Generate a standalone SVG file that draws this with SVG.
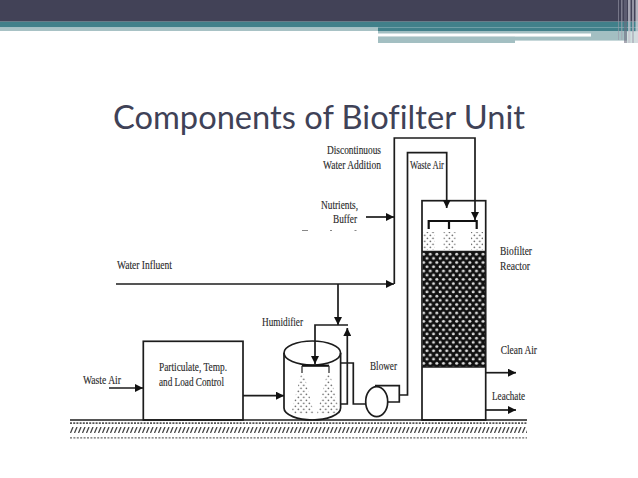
<svg xmlns="http://www.w3.org/2000/svg" width="638" height="478" viewBox="0 0 638 478">
<style>
.l{fill:none;stroke:#1c1c1c;stroke-width:1.7}
.t{font-family:"Liberation Serif",serif;font-size:13px;fill:#2a2a2a;stroke:#2a2a2a;stroke-width:.15}
.title{font-family:Lato,"Open Sans",sans-serif;font-size:33px;fill:#3f4257;font-variant-ligatures:none}
</style>
<defs>
<marker id="a" viewBox="0 0 10 10" refX="10" refY="5" markerWidth="8" markerHeight="8" markerUnits="userSpaceOnUse" orient="auto"><path d="M0 0L10 5L0 10Z" fill="#111"/></marker>
<pattern id="pack" width="6.600" height="8.400" patternUnits="userSpaceOnUse" x="422" y="252">
<rect width="6.600" height="8.400" fill="#111"/><circle cx="1.650" cy="2.100" r="1.500" fill="#ddd"/><circle cx="4.950" cy="6.300" r="1.500" fill="#ddd"/>
</pattern>
<pattern id="drops" width="5.500" height="6" patternUnits="userSpaceOnUse">
<circle cx="1.300" cy="1.400" r=".8" fill="#666"/><circle cx="4" cy="4.400" r=".8" fill="#666"/>
</pattern>
<pattern id="hatch" width="4" height="6" patternUnits="userSpaceOnUse" x="70" y="427">
<path d="M0.500 6L3 0" stroke="#444" stroke-width="1.300"/>
</pattern>
</defs>
<rect width="638" height="478" fill="#fff"/>
<g id="banner">
<rect width="638" height="21.700" fill="#424257"/>
<rect y="21.700" width="638" height="5.800" fill="#41808a"/>
<rect y="27.500" width="378" height="3.500" fill="#a8c2c5"/>
<rect x="378" y="27.500" width="260" height="4" fill="#41808a"/>
<rect x="378" y="31.500" width="249" height="9.100" fill="#a3bfc2"/>
<rect x="378" y="33.500" width="213" height="2.500" fill="#fff"/>
<rect x="378" y="36" width="213" height=".8" fill="#e4ecec"/>
<rect x="378" y="36.800" width="137" height="6.200" fill="#a3bfc2"/>
<rect x="618" y="0" width="1" height="40" fill="#9a9aa8" opacity=".6"/>
<rect x="621" y="0" width="1.500" height="40" fill="#a5a5b2" opacity=".6"/>
<rect x="624" y="0" width="3" height="43" fill="#6e6e80" opacity=".6"/>
<rect x="627" y="31.500" width="11" height="11.500" fill="#cfe0df"/>
<rect x="628" y="0" width="2.500" height="43" fill="#c5c5cf" opacity=".75"/>
<rect x="632" y="0" width="2" height="43" fill="#b0b0bc" opacity=".75"/>
<rect x="635.500" y="0" width="2.500" height="43" fill="#d8d8df" opacity=".75"/>
</g>
<text class="title" x="113" y="128.500" textLength="412" lengthAdjust="spacingAndGlyphs">Components of Biofilter Unit</text>
<g id="ground">
<path class="l" d="M70 420H527"/>
<path d="M70 423.200H527" stroke="#555" stroke-width="1.800" stroke-dasharray="2 1.200" fill="none"/>
<rect x="70" y="427" width="457" height="6" fill="url(#hatch)"/>
<path d="M70 437.800H527" stroke="#666" stroke-width="1.300" stroke-dasharray="2 1.400" fill="none"/>
</g>
<g id="control-unit">
<rect class="l" x="143.300" y="341.300" width="99.700" height="78.700" fill="#fff"/>
<text class="t" x="159" y="370.700" textLength="68" lengthAdjust="spacingAndGlyphs">Particulate, Temp.</text>
<text class="t" x="159" y="385.700" textLength="65" lengthAdjust="spacingAndGlyphs">and Load Control</text>
</g>
<g id="humidifier">
<path d="M301 374L291 414 314 414 304 374ZM327 374L317 414 340 414 330 374Z" fill="url(#drops)"/>
<path class="l" d="M284 353V408C284 415 298 420 312.300 420S340.600 415 340.600 408V353"/>
<ellipse class="l" cx="312.300" cy="353" rx="28.300" ry="12"/>
<path d="M302 365.700H329" stroke="#111" stroke-width="2.200" fill="none"/>
<path d="M302 365.700V373M329 365.700V373" stroke="#333" stroke-width="1.300" fill="none"/>
<text class="t" x="262" y="325.700" textLength="41" lengthAdjust="spacingAndGlyphs">Humidifier</text>
</g>
<g id="blower">
<ellipse class="l" cx="376.700" cy="401.700" rx="11" ry="15" fill="#fff"/>
<path class="l" d="M375 385.700H399.300V402H387.700"/>
<text class="t" x="370" y="370" textLength="27" lengthAdjust="spacingAndGlyphs">Blower</text>
</g>
<g id="reactor">
<rect class="l" x="422" y="200.700" width="63.700" height="219.300" fill="#fff"/>
<rect x="422.700" y="252" width="62.300" height="115" fill="url(#pack)"/>
<path class="l" d="M422 251.500H485.700M422 367H485.700"/>
<rect x="423" y="232" width="12" height="18" fill="url(#drops)"/>
<rect x="443.500" y="232" width="12" height="18" fill="url(#drops)"/>
<rect x="471" y="232" width="12" height="18" fill="url(#drops)"/>
<path d="M428.700 229V221H476.700V229M449 221V229" stroke="#111" stroke-width="2.200" fill="none"/>
<text class="t" x="500" y="255" textLength="32" lengthAdjust="spacingAndGlyphs">Biofilter</text>
<text class="t" x="500" y="270" textLength="30" lengthAdjust="spacingAndGlyphs">Reactor</text>
</g>
<g id="connectors">
<path class="l" d="M116 284H394" marker-end="url(#a)"/>
<path class="l" d="M394.300 284V138H475V220" marker-end="url(#a)"/>
<path class="l" d="M366 217H394" marker-end="url(#a)"/>
<path class="l" d="M399.300 395H407.500V152.700H446.700V208" marker-end="url(#a)"/>
<path class="l" d="M338 284V325" marker-end="url(#a)"/>
<path class="l" d="M348 325H315V364" marker-end="url(#a)"/>
<path class="l" d="M340 404H347.300V328" marker-end="url(#a)"/>
<path class="l" d="M340.600 363H353.300V404H365.700"/>
<path class="l" d="M109 388H143" marker-end="url(#a)"/>
<path class="l" d="M243 395.700H284" marker-end="url(#a)"/>
<path class="l" d="M485.700 372.700H516" marker-end="url(#a)"/>
<path class="l" d="M485.700 410H516" marker-end="url(#a)"/>
</g>
<g id="labels">
<text class="t" x="327" y="154" textLength="54" lengthAdjust="spacingAndGlyphs">Discontinuous</text>
<text class="t" x="323" y="169" textLength="58" lengthAdjust="spacingAndGlyphs">Water Addition</text>
<text class="t" x="410" y="169" textLength="34" lengthAdjust="spacingAndGlyphs">Waste Air</text>
<text class="t" x="321" y="208.600" textLength="37" lengthAdjust="spacingAndGlyphs">Nutrients,</text>
<text class="t" x="333" y="223" textLength="24" lengthAdjust="spacingAndGlyphs">Buffer</text>
<text class="t" x="117" y="269" textLength="55" lengthAdjust="spacingAndGlyphs">Water Influent</text>
<text class="t" x="83" y="384" textLength="38" lengthAdjust="spacingAndGlyphs">Waste Air</text>
<text class="t" x="500.700" y="354" textLength="36.300" lengthAdjust="spacingAndGlyphs">Clean Air</text>
<text class="t" x="492" y="400" textLength="33" lengthAdjust="spacingAndGlyphs">Leachate</text>
</g>
<path id="clipped-marks" d="M302 230.500H308M330 230.500H332M354.500 230.500H356.500" stroke="#888" stroke-width="1.200" fill="none"/>
</svg>
